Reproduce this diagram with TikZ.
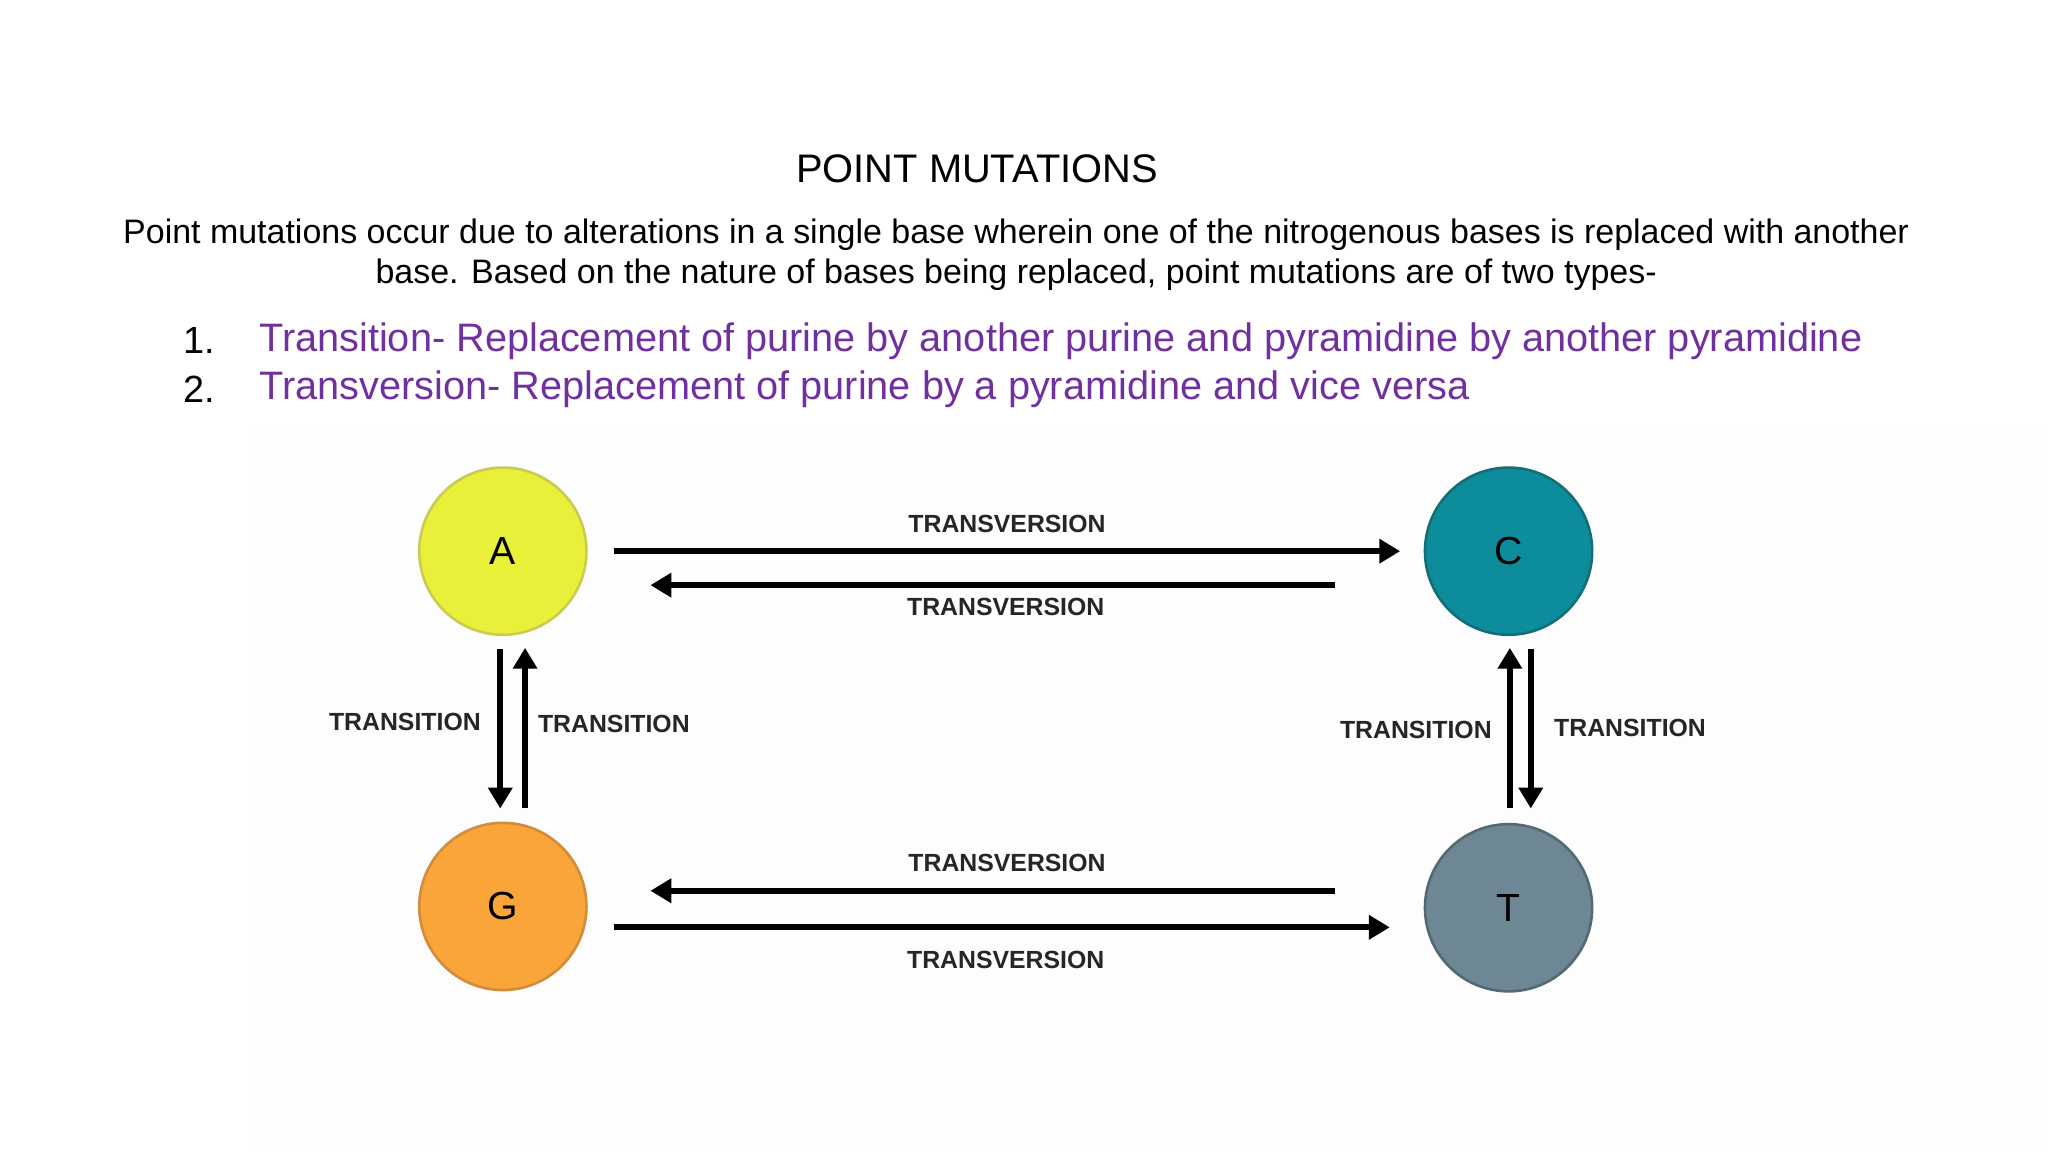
\documentclass[tikz,border=0pt]{standalone}
\usepackage{fontspec}
\setmainfont{Liberation Sans}
\usetikzlibrary{arrows.meta}
\definecolor{purp}{HTML}{7030A0}
\begin{document}
\begin{tikzpicture}[x=1pt,y=-1pt,
  base/.style={circle,minimum size=128pt,inner sep=0pt,line width=2pt,font=\fontsize{30}{30}\selectfont},
  arr/.style={line width=4.5pt,-{Triangle[length=16pt,width=18pt]}},
  lab/.style={font=\bfseries\fontsize{19}{19}\selectfont,text=black!85}]
\useasboundingbox (0,0) rectangle (1568,882);
\fill[black!0.8] (195,330) rectangle (1568,882);
\node (title) at (748,129) {\fontsize{30.5}{30}\selectfont POINT MUTATIONS};
\node[align=center,font=\fontsize{26}{31}\selectfont] (para) at (778,195) {Point mutations occur due to alterations in a single base wherein one of the nitrogenous bases is replaced with another\\base. Based on the nature of bases being replaced, point mutations are of two types-};
\node[anchor=west,font=\fontsize{29}{29}\selectfont] (n1) at (137,261) {1.};
\node[anchor=west,font=\fontsize{29}{29}\selectfont] (n2) at (137,298) {2.};
\node[anchor=west,text=purp,font=\fontsize{30.4}{30}\selectfont] (l1) at (195,261) {Transition- Replacement of purine by another purine and pyramidine by another pyramidine};
\node[anchor=west,text=purp,font=\fontsize{30.4}{30}\selectfont] (l2) at (195,298) {Transversion- Replacement of purine by a pyramidine and vice versa};
\node[base,fill={rgb,255:red,232;green,240;blue,58},draw={rgb,255:red,200;green,205;blue,80}] (A) at (385,422) {A};
\node[base,fill={rgb,255:red,13;green,141;blue,156},draw={rgb,255:red,20;green,110;blue,120}] (C) at (1155,422) {C};
\node[base,fill={rgb,255:red,249;green,165;blue,58},draw={rgb,255:red,210;green,140;blue,60}] (G) at (385,694) {G};
\node[base,fill={rgb,255:red,110;green,135;blue,148},draw={rgb,255:red,85;green,105;blue,115}] (T) at (1155,695) {T};
\coordinate (a1) at (470,422); \coordinate (a2) at (1072,422);
\coordinate (b1) at (1022,448); \coordinate (b2) at (498,448);
\coordinate (c1) at (1022,682); \coordinate (c2) at (498,682);
\coordinate (d1) at (470,710); \coordinate (d2) at (1064,710);
\coordinate (e1) at (383,497); \coordinate (e2) at (383,619);
\coordinate (f1) at (402,619); \coordinate (f2) at (402,496);
\coordinate (g1) at (1156,619); \coordinate (g2) at (1156,496);
\coordinate (h1) at (1172,497); \coordinate (h2) at (1172,619);
\draw[arr] (a1) -- (a2); \draw[arr] (b1) -- (b2);
\draw[arr] (c1) -- (c2); \draw[arr] (d1) -- (d2);
\draw[arr] (e1) -- (e2); \draw[arr] (f1) -- (f2);
\draw[arr] (g1) -- (g2); \draw[arr] (h1) -- (h2);
\node[lab] (t1) at (771,401) {TRANSVERSION};
\node[lab] (t2) at (770,465) {TRANSVERSION};
\node[lab] (t3) at (771,661) {TRANSVERSION};
\node[lab] (t4) at (770,735) {TRANSVERSION};
\node[lab] (s1) at (310,553) {TRANSITION};
\node[lab] (s2) at (470,554) {TRANSITION};
\node[lab] (s3) at (1084,559) {TRANSITION};
\node[lab] (s4) at (1248,557) {TRANSITION};
\end{tikzpicture}
\end{document}
